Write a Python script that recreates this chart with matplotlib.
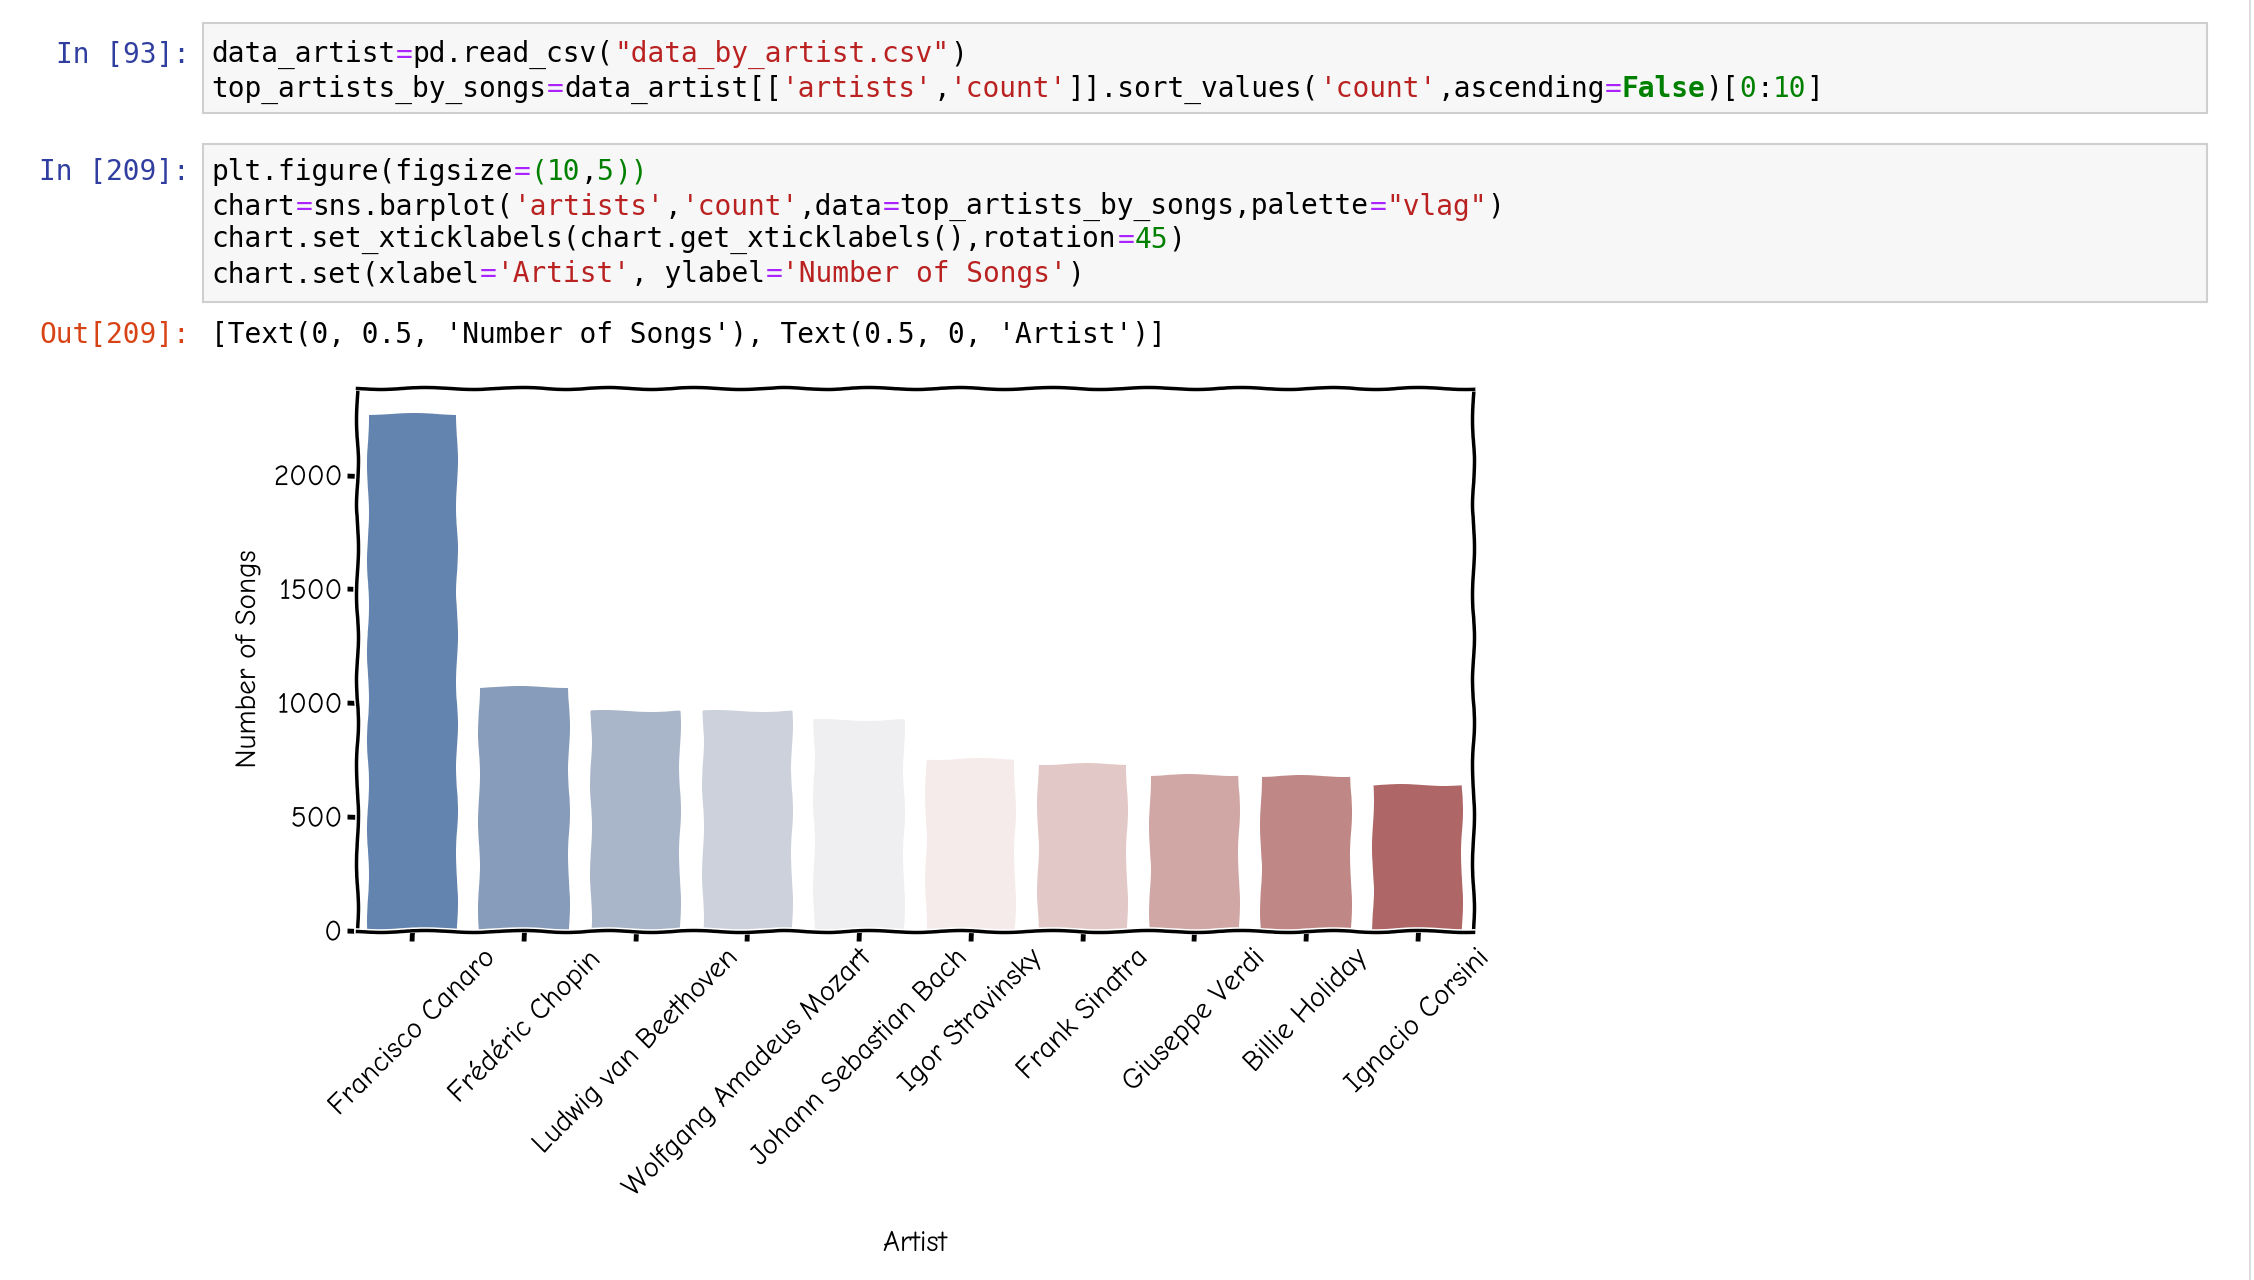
import matplotlib
matplotlib.use("Agg")
import matplotlib.pyplot as plt
import seaborn as sns
from matplotlib.patches import Rectangle

artists = ["Francisco Canaro", "Frédéric Chopin", "Ludwig van Beethoven",
           "Wolfgang Amadeus Mozart", "Johann Sebastian Bach", "Igor Stravinsky",
           "Frank Sinatra", "Giuseppe Verdi", "Billie Holiday", "Ignacio Corsini"]
counts = [2270, 1070, 965, 965, 925, 755, 735, 685, 680, 640]
yticks = [0, 500, 1000, 1500, 2000]

W, H = 1568.0, 891.0
def fx(x): return x / W
def fy(y): return 1 - y / H

fig = plt.figure(figsize=(22.54, 12.8), dpi=100)

for (x0, y0, x1, y1) in [(141, 16, 1535, 79), (141, 100, 1535, 210)]:
    fig.patches.append(Rectangle((fx(x0), fy(y1)), fx(x1) - fx(x0), fy(y0) - fy(y1),
                                 transform=fig.transFigure, facecolor="#f7f7f7",
                                 edgecolor="#cfcfcf", lw=1.5))
fig.add_artist(plt.Line2D([fx(1565), fx(1565)], [0, 1], transform=fig.transFigure, color="#dddddd", lw=1.5))

K, S, P, N, G = "black", "#ba2121", "#aa22ff", "#008000", "#008000"
lines = [
    (38, [("data_artist", K), ("=", P), ("pd.read_csv(", K), ('"data_by_artist.csv"', S), (")", K)]),
    (62, [("top_artists_by_songs", K), ("=", P), ("data_artist[[", K), ("'artists'", S), (",", K),
          ("'count'", S), ("]].sort_values(", K), ("'count'", S), (",ascending", K), ("=", P),
          ("False", "B"), (")[", K), ("0", N), (":", K), ("10", N), ("]", K)]),
    (120, [("plt.figure(figsize", K), ("=", P), ("(", G), ("10", N), (",", K), ("5", N), ("))", G)]),
    (144, [("chart", K), ("=", P), ("sns.barplot(", K), ("'artists'", S), (",", K), ("'count'", S),
           (",data", K), ("=", P), ("top_artists_by_songs,palette", K), ("=", P), ('"vlag"', S), (")", K)]),
    (167, [("chart.set_xticklabels(chart.get_xticklabels(),rotation", K), ("=", P), ("45", N), (")", K)]),
    (191, [("chart.set(xlabel", K), ("=", P), ("'Artist'", S), (", ylabel", K), ("=", P),
           ("'Number of Songs'", S), (")", K)]),
    (233, [("[Text(0, 0.5, 'Number of Songs'), Text(0.5, 0, 'Artist')]", K)]),
]
cw = 11.68
fs = 20.1
for y, toks in lines:
    x = 147
    for t, c in toks:
        bold = c == "B"
        fig.text(fx(x), fy(y), t, family="DejaVu Sans Mono", fontsize=fs,
                 color=G if bold else c, weight="bold" if bold else "normal", va="center")
        x += cw * len(t)

fig.text(fx(132), fy(38), "In [93]:", family="DejaVu Sans Mono", fontsize=fs, color="#303f9f", va="center", ha="right")
fig.text(fx(132), fy(120), "In [209]:", family="DejaVu Sans Mono", fontsize=fs, color="#303f9f", va="center", ha="right")
fig.text(fx(132), fy(233), "Out[209]:", family="DejaVu Sans Mono", fontsize=fs, color="#d84315", va="center", ha="right")

colors = [sns.desaturate(c, 0.75) for c in sns.color_palette("vlag", len(artists))]
with plt.xkcd():
    ax = fig.add_axes([fx(248), fy(648), fx(1025) - fx(248), fy(270) - fy(648)])
    ax.bar(range(len(artists)), counts, width=0.8, color=colors)
    ax.set_xlim(-0.5, len(artists) - 0.5)
    ax.set_ylim(0, 2385)
    ax.set_yticks(yticks)
    ax.set_yticklabels([str(v) for v in yticks], fontsize=21)
    ax.set_xticks(range(len(artists)))
    ax.set_xticklabels(artists, rotation=45, fontsize=21)
    ax.tick_params(width=3.5, length=7)
    ax.set_xlabel("Artist", fontsize=21, labelpad=22)
    ax.set_ylabel("Number of Songs", fontsize=21, labelpad=10)
    for s in ax.spines.values():
        s.set_linewidth(2.5)

fig.savefig("out.png", dpi=100)
